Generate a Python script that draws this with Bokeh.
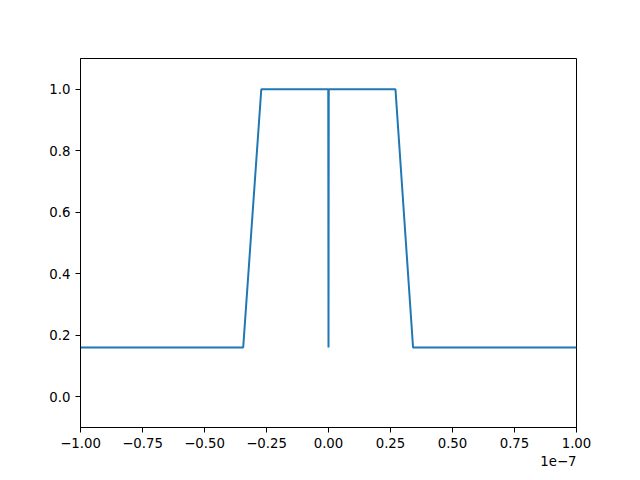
from bokeh.plotting import figure
from bokeh.models import FixedTicker, Range1d, Title
from bokeh.embed import file_html
from bokeh.resources import INLINE

# x in units of 1e-7
x_vals = [-1.0, -0.344, -0.271, -0.001, 0.0, 0.001, 0.270, 0.341, 1.0]
y_vals = [0.16, 0.16, 1.0, 1.0, 0.16, 1.0, 1.0, 0.16, 0.16]

x_ticks = [-1.0, -0.75, -0.5, -0.25, 0.0, 0.25, 0.5, 0.75, 1.0]
x_tick_labels = ["\u22121.00", "\u22120.75", "\u22120.50", "\u22120.25", "0.00", "0.25", "0.50", "0.75", "1.00"]
y_ticks = [0.0, 0.2, 0.4, 0.6, 0.8, 1.0]
y_tick_labels = ["0.0", "0.2", "0.4", "0.6", "0.8", "1.0"]
offset_text = "1e\u22127"

p = figure(width=640, height=480, output_backend="svg", toolbar_location=None,
           x_range=Range1d(-1.0, 1.0), y_range=Range1d(-0.1, 1.1),
           min_border_left=80, min_border_right=64, min_border_top=58, min_border_bottom=53)
p.line(x_vals, y_vals, line_color="#1f77b4", line_width=2)

p.xgrid.visible = False
p.ygrid.visible = False
p.outline_line_color = "black"
p.outline_line_width = 1

for ax, ticks, labels in ((p.xaxis[0], x_ticks, x_tick_labels), (p.yaxis[0], y_ticks, y_tick_labels)):
    ax.ticker = FixedTicker(ticks=ticks)
    ax.major_label_overrides = {t: l for t, l in zip(ticks, labels)}
    ax.minor_tick_line_color = None
    ax.major_tick_out = 5
    ax.major_tick_in = 0
    ax.major_tick_line_color = "black"
    ax.axis_line_color = "black"
    ax.major_label_text_font = "DejaVu Sans"
    ax.major_label_text_font_size = "13.3px"
    ax.major_label_text_color = "black"
    ax.major_label_standoff = 5

p.add_layout(Title(text=offset_text, align="right", text_font="DejaVu Sans", text_font_size="13.3px",
                   text_font_style="normal", text_color="black", standoff=7), "below")

open("out.html", "w").write(file_html(p, INLINE))
